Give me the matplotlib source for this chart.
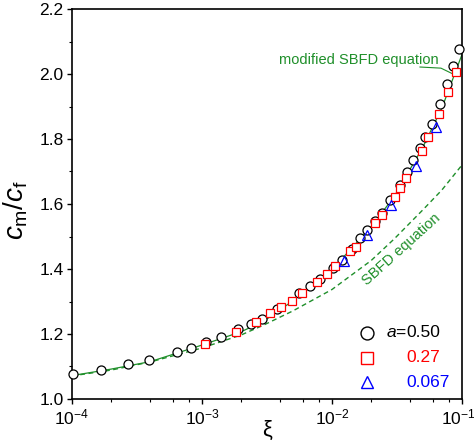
import matplotlib
matplotlib.use('Agg')
import matplotlib.pyplot as plt
from matplotlib.transforms import ScaledTranslation
from matplotlib.ticker import FixedLocator, FixedFormatter, LogLocator, NullFormatter, MultipleLocator, FormatStrFormatter

plt.rcParams['font.family'] = ['Liberation Sans', 'DejaVu Sans']
plt.rcParams['mathtext.fontset'] = 'custom'
plt.rcParams['mathtext.rm'] = 'Liberation Sans'
plt.rcParams['mathtext.it'] = 'Liberation Sans:italic'
plt.rcParams['mathtext.bf'] = 'Liberation Sans:bold'

# ---- data ----
xi_a050 = [1.02e-4, 1.67e-4, 2.70e-4, 3.91e-4, 6.42e-4, 8.23e-4, 1.07e-3, 1.40e-3, 1.89e-3,
           2.38e-3, 2.89e-3, 3.78e-3, 5.57e-3, 6.77e-3, 8.09e-3, 1.018e-2, 1.19e-2, 1.425e-2,
           1.64e-2, 1.86e-2, 2.14e-2, 2.43e-2, 2.79e-2, 3.33e-2, 3.78e-2, 4.20e-2, 4.75e-2,
           5.19e-2, 5.87e-2, 6.78e-2, 7.67e-2, 8.53e-2, 9.48e-2]
ratio_a050 = [1.077, 1.089, 1.108, 1.120, 1.145, 1.157, 1.175, 1.191, 1.215,
              1.231, 1.246, 1.277, 1.326, 1.348, 1.369, 1.403, 1.428, 1.462,
              1.495, 1.520, 1.548, 1.572, 1.612, 1.658, 1.698, 1.735, 1.772,
              1.806, 1.846, 1.908, 1.969, 2.025, 2.077]

xi_a027 = [1.055e-3, 1.826e-3, 2.60e-3, 3.33e-3, 4.05e-3, 4.92e-3, 5.88e-3, 7.67e-3, 9.15e-3,
           1.055e-2, 1.375e-2, 1.53e-2, 2.14e-2, 2.43e-2, 3.05e-2, 3.33e-2, 3.71e-2, 4.92e-2,
           5.47e-2, 6.65e-2, 7.80e-2, 8.99e-2]
ratio_a027 = [1.169, 1.206, 1.237, 1.265, 1.283, 1.302, 1.326, 1.360, 1.385,
              1.409, 1.455, 1.468, 1.542, 1.566, 1.622, 1.649, 1.680, 1.763,
              1.806, 1.877, 1.945, 2.006]

xi_a0067 = [1.236e-2, 1.86e-2, 2.84e-2, 4.43e-2, 6.31e-2]
ratio_a0067 = [1.425, 1.505, 1.597, 1.717, 1.837]

curve_xi = [1e-4, 2e-4, 4e-4, 1e-3, 2e-3, 3e-3, 5e-3, 1e-2, 2e-2, 3e-2, 5e-2, 7e-2, 1e-1]
modified_ratio = [1.072, 1.092, 1.115, 1.166, 1.207, 1.240, 1.302, 1.398, 1.530, 1.622, 1.775, 1.895, 2.06]
sbfd_ratio = [1.071, 1.089, 1.114, 1.157, 1.197, 1.228, 1.271, 1.337, 1.426, 1.492, 1.582, 1.643, 1.72]

legend_labels = ['0.50', '0.27', '0.067']
xtick_vals = [1e-4, 1e-3, 1e-2, 1e-1]
xtick_labels = [r'$10^{-4}$', r'$10^{-3}$', r'$10^{-2}$', r'$10^{-1}$']

green = '#1f8f2a'

fig = plt.figure(figsize=(4.74, 4.44), dpi=100)
ax = fig.add_axes([72/474, 45/444, 390/474, 390/444])

ax.plot(curve_xi, modified_ratio, color=green, lw=0.9, zorder=2)
ax.plot(curve_xi, sbfd_ratio, color=green, lw=1.0, ls=(0, (3.5, 2.5)), zorder=2)

ax.plot(xi_a050, ratio_a050, 'o', ls='none', mfc='white', mec='black', ms=6.5, mew=0.9,
        zorder=3, clip_on=False)
ax.plot(xi_a027, ratio_a027, 's', ls='none', mfc='white', mec='#ff0000', ms=5.3, mew=0.9,
        zorder=4, clip_on=False)
ax.plot(xi_a0067, ratio_a0067, '^', ls='none', mfc='none', mec='#0000ff', ms=6.8, mew=0.9,
        zorder=5, clip_on=False)

ax.set_xscale('log')
ax.set_xlim(1e-4, 1e-1)
ax.set_ylim(1.0, 2.2)

ax.xaxis.set_major_locator(FixedLocator(xtick_vals))
ax.xaxis.set_major_formatter(FixedFormatter(xtick_labels))
ax.xaxis.set_minor_locator(LogLocator(base=10, subs=[2, 4, 6, 8]))
ax.xaxis.set_minor_formatter(NullFormatter())
ax.yaxis.set_major_locator(MultipleLocator(0.2))
ax.yaxis.set_minor_locator(MultipleLocator(0.1))
ax.yaxis.set_major_formatter(FormatStrFormatter('%.1f'))

ax.tick_params(which='major', direction='out', length=3.5, width=1.0, labelsize=12.5, pad=2.5)
ax.tick_params(which='minor', direction='out', length=2.0, width=0.8)
for s in ax.spines.values():
    s.set_linewidth(1.2)

# shift the last x tick label slightly left so it stays inside the figure
last = ax.get_xticklabels()[-1]
last.set_transform(last.get_transform() + ScaledTranslation(-4/100, 0, fig.dpi_scale_trans))

ax.set_ylabel(r'$c_{\mathrm{m}}/c_{\mathrm{f}}$', fontsize=20)
ax.yaxis.set_label_coords(-0.108, 0.485)
ax.set_xlabel('ξ', fontsize=16, labelpad=-5)

# annotations
ax.text(1.6e-2, 2.043, 'modified SBFD equation', color=green, fontsize=10.5, ha='center', va='center')
ax.plot([4.75e-2, 6.89e-2, 8.84e-2], [2.0215, 2.018, 1.997], color=green, lw=0.8)
ax.text(3.40e-2, 1.4615, 'SBFD equation', color=green, fontsize=10.5, rotation=42,
        rotation_mode='anchor', ha='center', va='center')

# legend (manual)
tr = ax.transAxes
ax.plot([0.756], [0.170], 'o', transform=tr, ms=9.3, mfc='none', mec='black', mew=1.0)
ax.plot([0.756], [0.106], 's', transform=tr, ms=8.3, mfc='none', mec='#ff0000', mew=1.0)
ax.plot([0.756], [0.043], '^', transform=tr, ms=9.3, mfc='none', mec='#0000ff', mew=1.0)
ax.text(0.858, 0.170, r'$a$=', transform=tr, ha='right', va='center', fontsize=12.5)
for lab, yy, col in zip(legend_labels, [0.170, 0.106, 0.043], ['black', '#ff0000', '#0000ff']):
    ax.text(0.858, yy, lab, transform=tr, ha='left', va='center', fontsize=12.5, color=col)

fig.savefig('out.png', dpi=100)
